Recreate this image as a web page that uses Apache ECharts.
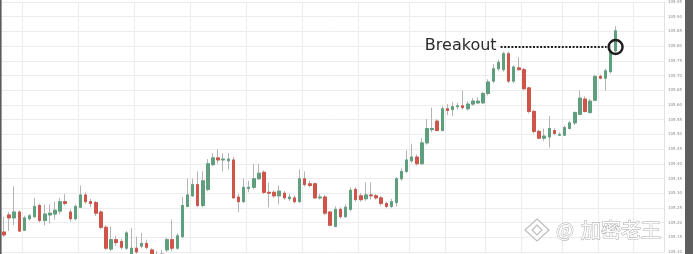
<!DOCTYPE html>
<html><head><meta charset="utf-8">
<script src="https://cdn.jsdelivr.net/npm/echarts@6/dist/echarts.min.js"></script>
<style>html,body{margin:0;padding:0;background:#fff;overflow:hidden}#c{width:693px;height:254px}</style>
</head><body><div id="c"></div>
<script>
// ---- data (one entry per candle) ----
const opens = [
105.168,105.226,105.216,105.236,105.174,105.213,105.220,105.258,105.207,105.226,
105.229,105.239,105.271,105.236,105.213,105.252,105.294,105.271,105.268,105.236,
105.184,105.110,105.142,105.136,105.113,105.094,105.113,105.120,105.129,105.107,
105.087,105.074,105.107,105.142,105.113,105.152,105.255,105.291,105.329,105.258,
105.313,105.397,105.420,105.413,105.410,105.413,105.287,105.271,105.316,105.320,
105.349,105.371,105.303,105.303,105.291,105.300,105.281,105.284,105.271,105.349,
105.332,105.332,105.284,105.287,105.236,105.187,105.245,105.220,105.245,105.313,
105.291,105.281,105.294,105.291,105.284,105.265,105.255,105.268,105.349,105.374,
105.410,105.423,105.400,105.471,105.516,105.545,105.513,105.587,105.584,105.594,
105.597,105.587,105.603,105.607,105.607,105.639,105.681,105.723,105.720,105.774,
105.681,105.726,105.720,105.658,105.578,105.510,105.487,105.491,105.513,105.497,
105.497,105.520,105.539,105.568,105.620,105.574,105.616,105.697,105.691,105.713,
105.784];
const closes = [
105.158,105.216,105.236,105.171,105.216,105.223,105.255,105.207,105.229,105.232,
105.242,105.271,105.265,105.213,105.255,105.294,105.271,105.265,105.232,105.184,
105.113,105.142,105.132,105.116,105.165,105.113,105.100,105.129,105.116,105.087,
105.074,105.094,105.142,105.113,105.155,105.258,105.294,105.329,105.258,105.342,
105.400,105.420,105.413,105.416,105.416,105.284,105.271,105.320,105.320,105.349,
105.368,105.303,105.300,105.291,105.307,105.284,105.287,105.271,105.349,105.329,
105.326,105.284,105.287,105.232,105.191,105.245,105.220,105.252,105.310,105.278,
105.278,105.294,105.291,105.284,105.265,105.255,105.271,105.349,105.374,105.413,
105.423,105.400,105.471,105.520,105.520,105.513,105.587,105.581,105.594,105.597,
105.591,105.603,105.613,105.613,105.639,105.678,105.723,105.745,105.774,105.681,
105.729,105.720,105.655,105.578,105.510,105.487,105.494,105.520,105.503,105.500,
105.523,105.539,105.574,105.623,105.578,105.613,105.697,105.691,105.716,105.784,
105.852];
const lows = [
105.152,105.171,105.191,105.168,105.171,105.207,105.216,105.200,105.191,105.197,
105.210,105.229,105.258,105.203,105.207,105.249,105.265,105.252,105.223,105.178,
105.107,105.103,105.120,105.107,105.107,105.087,105.094,105.113,105.110,105.081,
105.065,105.068,105.100,105.103,105.107,105.149,105.252,105.287,105.252,105.252,
105.307,105.391,105.400,105.374,105.381,105.281,105.236,105.268,105.303,105.313,
105.345,105.297,105.252,105.284,105.262,105.278,105.274,105.265,105.268,105.323,
105.320,105.281,105.278,105.226,105.187,105.184,105.213,105.216,105.239,105.271,
105.271,105.274,105.278,105.278,105.258,105.249,105.249,105.255,105.342,105.368,
105.403,105.394,105.397,105.465,105.507,105.510,105.510,105.565,105.562,105.584,
105.584,105.581,105.597,105.603,105.603,105.632,105.674,105.716,105.713,105.674,
105.674,105.716,105.649,105.571,105.503,105.484,105.478,105.455,105.497,105.494,
105.494,105.516,105.532,105.565,105.574,105.571,105.613,105.687,105.649,105.707,
105.778];
const highs = [
105.220,105.236,105.323,105.242,105.223,105.229,105.284,105.265,105.262,105.262,
105.271,105.284,105.297,105.245,105.262,105.326,105.303,105.281,105.274,105.242,
105.191,105.187,105.155,105.145,105.171,105.181,105.152,105.165,105.142,105.113,
105.103,105.107,105.149,105.210,105.165,105.287,105.349,105.349,105.374,105.374,
105.416,105.436,105.449,105.436,105.436,105.423,105.297,105.349,105.342,105.400,
105.400,105.378,105.336,105.310,105.326,105.307,105.297,105.291,105.381,105.374,
105.342,105.336,105.297,105.294,105.239,105.255,105.252,105.262,105.320,105.320,
105.300,105.336,105.336,105.297,105.291,105.271,105.281,105.355,105.384,105.445,
105.468,105.432,105.487,105.552,105.591,105.552,105.597,105.603,105.610,105.607,
105.649,105.613,105.623,105.626,105.645,105.687,105.739,105.755,105.781,105.781,
105.736,105.762,105.726,105.662,105.584,105.516,105.520,105.562,105.520,105.507,
105.529,105.545,105.578,105.649,105.629,105.620,105.703,105.703,105.723,105.803,
105.868];
const emptySlots = 9;                       // blank bars to the right of the last candle
const yTicks = [105.10,105.15,105.20,105.25,105.30,105.35,105.40,105.45,105.50,
                105.55,105.60,105.65,105.70,105.75,105.80,105.85,105.90,105.95];
const vGridBars = [4,15,26,37,48,59,70,80,87,95,102,110,117,124];
const breakoutBar = 120;
const breakoutLevel = 105.797;
const breakoutLabel = 'Breakout';
const watermarkAt = '@';
const watermarkName = '加密老王';

// ---- build ----
const n = opens.length + emptySlots;
const categories = Array.from({length: n}, (_, i) => 'b' + i);
const full = opens.map((o, i) => [o, closes[i], lows[i], highs[i]]);
const bodies = opens.map((o, i) => [o, closes[i], Math.min(o, closes[i]), Math.max(o, closes[i])]);
const vSet = new Set(vGridBars);
const GREEN = '#5f9f7e', RED = '#cf5449', WICK = '#b4b4b4';

const chart = echarts.init(document.getElementById('c'), null, {renderer: 'canvas'});
const option = {
  animation: false,
  backgroundColor: '#ffffff',
  grid: {left: 1.5, right: 29, top: -3.5, bottom: -6, containLabel: false},
  xAxis: {
    type: 'category', data: categories, boundaryGap: true,
    axisLine: {show: false}, axisTick: {show: false}, axisLabel: {show: false},
    splitLine: {show: true, interval: (idx) => vSet.has(idx), lineStyle: {color: '#ececec', width: 1}}
  },
  yAxis: {
    type: 'value', position: 'right', scale: true,
    min: yTicks[0], max: yTicks[yTicks.length - 1], interval: 0.05,
    axisLine: {show: true, lineStyle: {color: '#e2e2e2'}},
    axisTick: {show: false},
    axisLabel: {show: true, fontSize: 4, color: '#8a8a8a', margin: 4,
                formatter: (v) => v.toFixed(2), fontFamily: 'DejaVu Sans'},
    splitLine: {show: true, lineStyle: {color: '#ececec', width: 1}}
  },
  series: [
    {
      type: 'candlestick', name: 'wick', data: full, barWidth: 3, clip: true, z: 2,
      itemStyle: {color: WICK, color0: WICK, borderColor: WICK, borderColor0: WICK, borderWidth: 1}
    },
    {
      type: 'candlestick', name: 'body', data: bodies, barWidth: 3, clip: true, z: 3,
      itemStyle: {color: GREEN, color0: RED, borderColor: GREEN, borderColor0: RED, borderWidth: 1}
    }
  ]
};
chart.setOption(option);

// annotation positioned through the chart's own scales
const p = chart.convertToPixel({xAxisIndex: 0, yAxisIndex: 0}, [breakoutBar, breakoutLevel]);
const cx = p[0], cy = p[1];
chart.setOption({
  graphic: [
    {type: 'rect', shape: {x: 0, y: 0, width: 1.6, height: 254}, style: {fill: '#5b5b5b'}, z: 100},
    {type: 'rect', shape: {x: 685, y: 0, width: 8, height: 254}, style: {fill: '#5e5e5e'}, z: 100},
    {type: 'line', shape: {x1: cx - 115, y1: cy, x2: cx - 9, y2: cy},
     style: {stroke: '#1e1e1e', lineWidth: 2, lineDash: [2, 1.6]}, z: 50},
    {type: 'circle', shape: {cx: cx, cy: cy, r: 7}, style: {fill: 'none', stroke: '#1e1e1e', lineWidth: 2.4}, z: 50},
    {type: 'text', x: cx - 119, y: cy - 1.5,
     style: {text: breakoutLabel, align: 'right', verticalAlign: 'middle',
             font: '16px "DejaVu Sans"', fill: '#2b2b2b'}, z: 50},
    // watermark
    {type: 'polygon', shape: {points: [[537, 219], [549, 230], [537, 241], [525, 230]]},
     style: {fill: 'rgba(255,255,255,0.6)', stroke: '#bdbdbd', lineWidth: 1.2}, z: 60},
    {type: 'polygon', shape: {points: [[537, 225], [542, 230], [537, 235], [532, 230]]},
     style: {fill: '#fff', stroke: '#bdbdbd', lineWidth: 1.2}, z: 61},
    {type: 'text', x: 556, y: 230,
     style: {text: watermarkAt, verticalAlign: 'middle', font: '19px "Noto Sans CJK SC"',
             fill: '#ffffff', stroke: '#a8a8a8', lineWidth: 1}, z: 60},
    {type: 'text', x: 581, y: 230,
     style: {text: watermarkName, verticalAlign: 'middle', font: '20px "Noto Sans CJK SC"',
             fill: '#ffffff', stroke: '#a8a8a8', lineWidth: 1, textLetterSpacing: 2}, z: 60}
  ]
});
</script>
</body></html>
